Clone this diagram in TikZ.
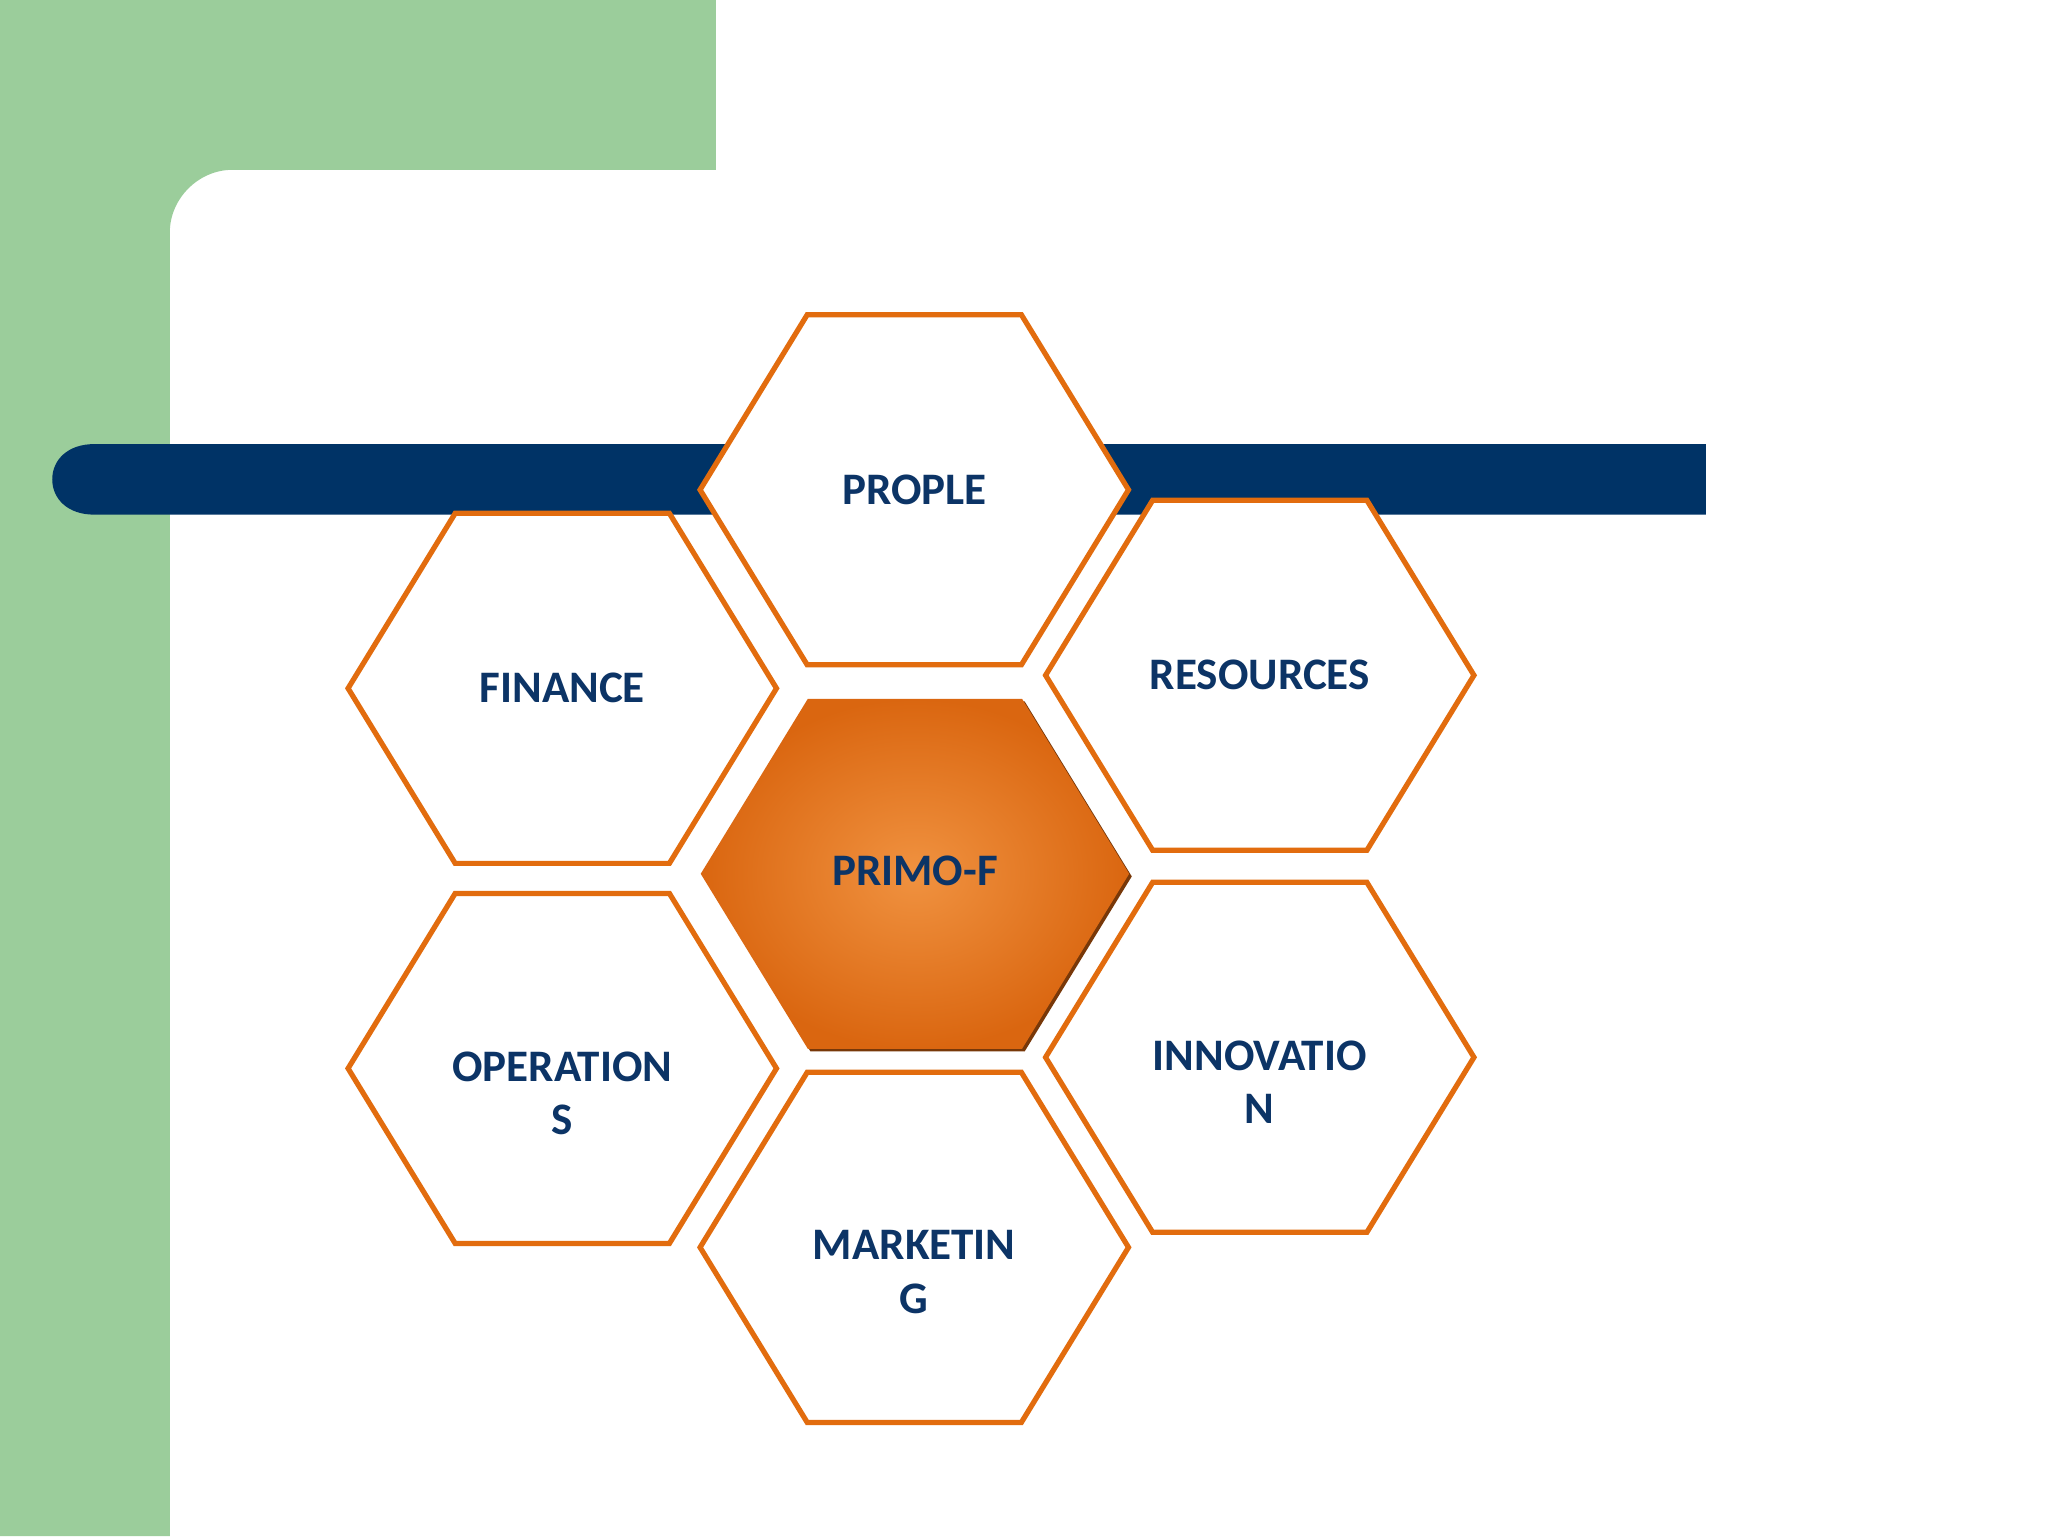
\documentclass[tikz,border=0pt]{standalone}
\usepackage{fontspec}
\setmainfont{Carlito}
\usetikzlibrary{positioning}

\definecolor{leafgreen}{RGB}{155,205,155}
\definecolor{barblue}{RGB}{0,51,102}
\definecolor{labelblue}{RGB}{12,52,102}
\definecolor{hexorange}{RGB}{226,108,14}
\definecolor{coreinner}{RGB}{240,146,64}
\definecolor{coreouter}{RGB}{218,102,16}

% flat-topped honeycomb cell around a named coordinate
\newcommand{\hexcell}[1]{(#1) ++(-164,0) -- ++(82,-134) -- ++(164,0) -- ++(82,134) -- ++(-82,134) -- ++(-164,0) -- cycle}

\begin{document}
\begin{tikzpicture}[
            x=1pt, y=-1pt,
            hexline/.style = {draw=hexorange, line width=4pt, fill=white, line join=miter},
            hexcore/.style = {inner color=coreinner, outer color=coreouter},
            hexlabel/.style = {text=labelblue, font=\fontsize{34.5}{41}\selectfont\bfseries, align=center, inner sep=0pt}
        ]
        \useasboundingbox (0,0) rectangle (1568,1176);
        \fill[white] (0,0) rectangle (1568,1176);
        % background
        \fill[leafgreen] (0,0) -- (548,0) -- (548,130) -- (178,130)
            .. controls (152,130) and (130,152) .. (130,178) -- (130,1176) -- (0,1176) -- cycle;
        \fill[barblue] (1306,340) -- (72,340)
            .. controls (52,340) and (40,352) .. (40,367)
            .. controls (40,382) and (52,394) .. (72,394) -- (1306,394) -- cycle;

        % cell centres
        \coordinate (c-people) at (700,375);
        \coordinate (c-finance) at (430.5,527);
        \coordinate (c-resources) at (964.5,517);
        \coordinate (c-primo) at (700.5,669);
        \coordinate (c-operations) at (430.5,818);
        \coordinate (c-innovation) at (964.5,809.5);
        \coordinate (c-marketing) at (700,955);

        \foreach \cell in {people, finance, resources, operations, innovation, marketing}
            \draw[hexline] \hexcell{c-\cell};
        \fill[black!45!coreouter] ([shift={(2,2)}]c-primo) ++(-164,0) -- ++(82,-134) -- ++(164,0) -- ++(82,134) -- ++(-82,134) -- ++(-164,0) -- cycle;
        \shade[hexcore] \hexcell{c-primo};

        \node[hexlabel] (people) at (c-people) {PROPLE};
        \node[hexlabel] (finance) at (c-finance) {FINANCE};
        \node[hexlabel] (resources) at (c-resources) {RESOURCES};
        \node[hexlabel] (primo) at ([yshift=2]c-primo) {PRIMO-F};
        \node[hexlabel] (operations) at ([yshift=-19]c-operations) {OPERATION\\S};
        \node[hexlabel] (innovation) at ([yshift=-19]c-innovation) {INNOVATIO\\N};
        \node[hexlabel] (marketing) at ([yshift=-19]c-marketing) {MARKETIN\\G};
    \end{tikzpicture}
\end{document}
